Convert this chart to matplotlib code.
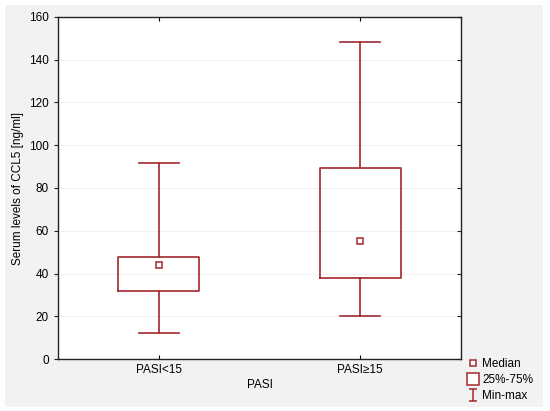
import numpy as np
import matplotlib
matplotlib.use("Agg")
import matplotlib.pyplot as plt
from matplotlib.lines import Line2D
from matplotlib.path import Path
from matplotlib.patches import Rectangle

# values
groups = ["PASI<15", "PASI\u226515"]
mins = [12, 20.3]
q1 = [31.8, 38.0]
medians = [43.8, 55.1]
q3 = [47.9, 89.2]
maxs = [91.8, 148.3]

red = "#a3282e"
plt.rcParams["font.family"] = ["Liberation Sans", "DejaVu Sans"]
plt.rcParams["font.size"] = 8.5

fig = plt.figure(figsize=(5.5, 4.11), dpi=100)
fig.patch.set_facecolor("white")
# grey panel behind the plot
fig.patches.append(Rectangle((5 / 550, 4 / 411), 538 / 550, 402 / 411,
                             transform=fig.transFigure, facecolor="#f2f2f2",
                             edgecolor="none", zorder=-10))
ax = fig.add_axes([58 / 550, 1 - 359 / 411, 403 / 550, 342 / 411])
ax.set_facecolor("white")

stats = []
for i, g in enumerate(groups):
    stats.append({"label": g, "whislo": mins[i], "q1": q1[i], "med": medians[i],
                  "q3": q3[i], "whishi": maxs[i], "fliers": []})

pos = np.arange(1, len(groups) + 1)
lp = dict(color=red, linewidth=1.2)
ax.bxp(stats, positions=pos, widths=0.4, showfliers=False,
       boxprops=lp, whiskerprops=lp, capprops=lp,
       medianprops=dict(linewidth=0), capwidths=0.2, zorder=3)
ax.plot(pos, medians, linestyle="none", marker="s", markersize=4.5,
        markerfacecolor="white", markeredgecolor=red, markeredgewidth=1.1, zorder=4)

ax.set_xlim(0.5, 2.5)
ax.set_ylim(0, 160)
ax.set_yticks(np.arange(0, 161, 20))
ax.set_xticks(pos)
ax.set_xticklabels(groups)
ax.grid(axis="y", color="#eeeeee", linewidth=0.6)
ax.set_axisbelow(True)
ax.tick_params(axis="y", direction="out", length=3, width=0.8, right=True, labelright=False)
ax.tick_params(axis="x", direction="in", length=3, width=0.8, top=True)
for s in ax.spines.values():
    s.set_color("#222222")
    s.set_linewidth(1.0)
ax.tick_params(axis="y", which="both", color="#222222")
ax.set_xlabel("PASI", labelpad=2)
ax.set_ylabel("Serum levels of CCL5 [ng/ml]", labelpad=4)

# right ticks point inward
for t in ax.yaxis.get_major_ticks():
    t.tick2line.set_marker(matplotlib.lines.TICKLEFT)

imark = Path([(-0.6, 1), (0.6, 1), (0, 1), (0, -1), (-0.6, -1), (0.6, -1)],
             [Path.MOVETO, Path.LINETO, Path.MOVETO, Path.LINETO, Path.MOVETO, Path.LINETO])
handles = [
    Line2D([], [], linestyle="none", marker="s", markersize=4.5,
           markerfacecolor="white", markeredgecolor=red, markeredgewidth=1.1),
    Line2D([], [], linestyle="none", marker="s", markersize=9,
           markerfacecolor="white", markeredgecolor=red, markeredgewidth=1.1),
    Line2D([], [], linestyle="none", marker=imark, markersize=9,
           markerfacecolor="none", markeredgecolor=red, markeredgewidth=1.1),
]
fig.legend(handles, ["Median", "25%-75%", "Min-max"], loc="upper left",
           bbox_to_anchor=(467 / 550, 1 - 358 / 411), frameon=False,
           handlelength=1.0, handletextpad=0.3, labelspacing=0.35,
           borderpad=0, borderaxespad=0, fontsize=8.5)

fig.savefig("out.png", dpi=100, facecolor=fig.get_facecolor())
